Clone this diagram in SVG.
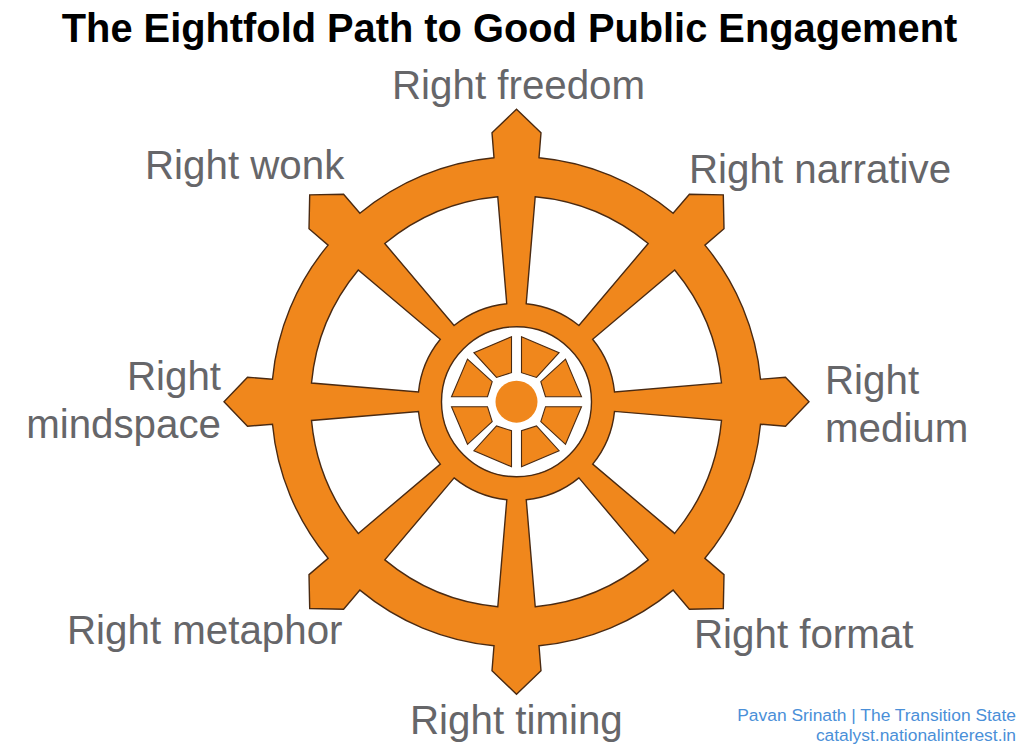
<svg xmlns="http://www.w3.org/2000/svg" xmlns:xlink="http://www.w3.org/1999/xlink" width="1024" height="751" viewBox="0 0 1024 751">
<style>
.w{fill:#f0871c;stroke:#4a2a12;stroke-width:1.4;stroke-linejoin:miter}
.h{fill:#fff;stroke:#4a2a12;stroke-width:1.4}
.p{fill:#f0871c;stroke:#4a2a12;stroke-width:1.1}
text{font-family:"Liberation Sans",Arial,sans-serif}
.t{font-size:39.8px;font-weight:700;fill:#000}
.l{font-size:40.3px;fill:#666669}
.f{font-size:17.4px;fill:#4a8fd8;text-anchor:end}
</style>
<defs>
<path id="hole" d="M18.7,-205A206,206 0 0 1 131.7,-158.2L62.4,-76.2A98.5,98.5 0 0 0 9.7,-98Z"/>
<polygon id="pa" points="5,-65 42.6,-49 20,-24.3 5,-29"/>
<polygon id="pb" points="-5,-65 -42.6,-49 -20,-24.3 -5,-29"/>
</defs>
<rect width="1024" height="751" fill="#fff"/>
<text class="t" x="509.500" y="42" text-anchor="middle">The Eightfold Path to Good Public Engagement</text>
<g id="wheel" transform="translate(516.5,401.7)">
<path class="w" d="M-22.5,-244L-24.5,-269L0,-292.5L24.5,-269L22.5,-244A245,245 0 0 1 156.6,-188.4L172.9,-207.5L206.8,-206.8L207.5,-172.9L188.4,-156.6A245,245 0 0 1 244,-22.5L269,-24.5L292.5,0L269,24.5L244,22.5A245,245 0 0 1 188.4,156.6L207.5,172.9L206.8,206.8L172.9,207.5L156.6,188.4A245,245 0 0 1 22.5,244L24.5,269L0,292.5L-24.5,269L-22.5,244A245,245 0 0 1 -156.6,188.4L-172.9,207.5L-206.8,206.8L-207.5,172.9L-188.4,156.6A245,245 0 0 1 -244,22.5L-269,24.5L-292.5,0L-269,-24.5L-244,-22.5A245,245 0 0 1 -188.4,-156.6L-207.5,-172.9L-206.8,-206.8L-172.9,-207.5L-156.6,-188.4A245,245 0 0 1 -22.5,-244Z"/>
<g class="h">
<use xlink:href="#hole"/>
<use xlink:href="#hole" transform="rotate(45)"/>
<use xlink:href="#hole" transform="rotate(90)"/>
<use xlink:href="#hole" transform="rotate(135)"/>
<use xlink:href="#hole" transform="rotate(180)"/>
<use xlink:href="#hole" transform="rotate(225)"/>
<use xlink:href="#hole" transform="rotate(270)"/>
<use xlink:href="#hole" transform="rotate(315)"/>
</g>
<circle class="h" r="75"/>
<g class="p">
<use xlink:href="#pa"/><use xlink:href="#pb"/>
<use xlink:href="#pa" transform="rotate(90)"/><use xlink:href="#pb" transform="rotate(90)"/>
<use xlink:href="#pa" transform="rotate(180)"/><use xlink:href="#pb" transform="rotate(180)"/>
<use xlink:href="#pa" transform="rotate(270)"/><use xlink:href="#pb" transform="rotate(270)"/>
</g>
<circle r="21" fill="#f0871c"/>
</g>
<g id="labels">
<text class="l" x="392" y="99">Right freedom</text>
<text class="l" x="689" y="183">Right narrative</text>
<text class="l" x="825" y="394">Right</text>
<text class="l" x="825" y="442">medium</text>
<text class="l" x="694" y="648">Right format</text>
<text class="l" x="410" y="734">Right timing</text>
<text class="l" x="67" y="644">Right metaphor</text>
<text class="l" x="221" y="390" text-anchor="end">Right</text>
<text class="l" x="221" y="438" text-anchor="end">mindspace</text>
<text class="l" x="145" y="179">Right wonk</text>
</g>
<g id="credit">
<text class="f" x="1016" y="721">Pavan Srinath | The Transition State</text>
<text class="f" x="1016" y="741">catalyst.nationalinterest.in</text>
</g>
</svg>
